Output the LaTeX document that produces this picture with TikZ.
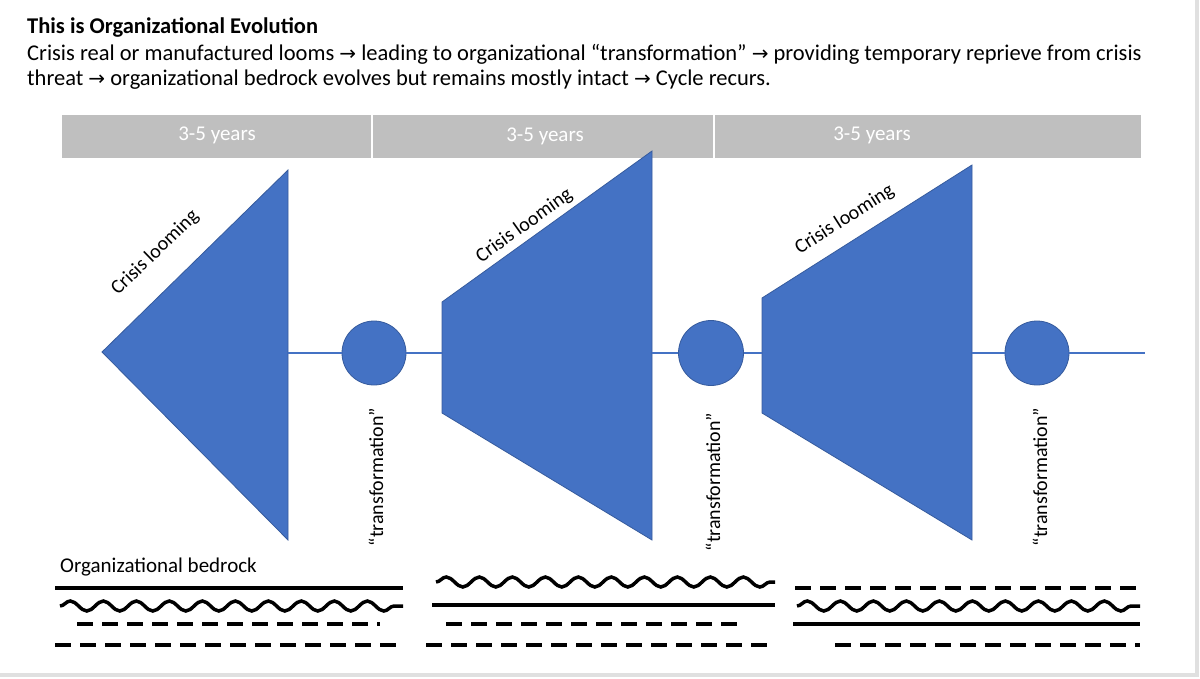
\documentclass[tikz,border=0pt]{standalone}
\usepackage{fontspec}
\setmainfont{Carlito}
\newfontfamily\arrfont{DejaVu Sans}
\usetikzlibrary{decorations.pathmorphing}
\newcommand{\ar}{{\arrfont\fontsize{20}{22}\selectfont →}}
\definecolor{shapeblue}{HTML}{4472C4}
\definecolor{bargray}{HTML}{BFBFBF}
\tikzset{
  blueshape/.style={fill=shapeblue,draw=shapeblue!80!black,line width=0.8pt},
  conn/.style={draw=shapeblue,line width=1.2pt},
  bed/.style={line width=3.5pt},
  beddash/.style={line width=3.5pt,dash pattern=on 16pt off 9pt},
  bedwave/.style={line width=3.5pt,decorate,decoration={snake,segment length=33pt,amplitude=5pt}},
  yrs/.style={text=white,font=\fontsize{21}{23}\selectfont},
  crisis/.style={font=\fontsize{20}{22}\selectfont,anchor=south,inner sep=1pt},
  trans/.style={font=\fontsize{20}{22}\selectfont,rotate=90},
  txt/.style={anchor=west,font=\fontsize{22.5}{25}\selectfont,inner sep=0pt}
}
\begin{document}
\begin{tikzpicture}[x=1pt,y=-1pt]
\useasboundingbox (0,0) rectangle (1200,678);
\fill[white] (0,0) rectangle (1200,678);
\draw[black!12,line width=4pt] (1197,0) -- (1197,675) -- (0,675);
\node[txt,font=\bfseries\fontsize{22.5}{25}\selectfont] (title) at (27,27) {This is Organizational Evolution};
\node[txt] (l1) at (27,54) {Crisis real or manufactured looms \ar{} leading to organizational “transformation” \ar{} providing temporary reprieve from crisis};
\node[txt] (l2) at (27,80) {threat \ar{} organizational bedrock evolves but remains mostly intact \ar{} Cycle recurs.};
% bar
\fill[bargray] (62,115) rectangle (1141,158);
\draw[white,line width=2pt] (372,115) -- (372,158) (714,115) -- (714,158);
\node[yrs] (y1) at (217,135) {3-5 years};
\node[yrs] (y2) at (545,136) {3-5 years};
\node[yrs] (y3) at (872,135) {3-5 years};
% shapes
\path[blueshape] (102,352) -- (288,170) -- (288,540) -- cycle;
\path[blueshape] (442,302) -- (652,151) -- (652,540) -- (442,413) -- cycle;
\path[blueshape] (762,298) -- (972,165) -- (972,540) -- (762,413) -- cycle;
\coordinate (s1) at (288,353);
\coordinate (s2l) at (442,353);
\coordinate (s2r) at (652,353);
\coordinate (s3l) at (762,353);
\coordinate (s3r) at (972,353);
\coordinate (e) at (1145,353);
\node[circle,minimum size=64pt,blueshape,inner sep=0pt] (c1) at (374,353) {};
\node[circle,minimum size=65pt,blueshape,inner sep=0pt] (c2) at (711,353) {};
\node[circle,minimum size=64pt,blueshape,inner sep=0pt] (c3) at (1037,353) {};
\draw[conn] (s1) -- (c1.west) (c1.east) -- (s2l) (s2r) -- (c2.west) (c2.east) -- (s3l) (s3r) -- (c3.west) (c3.east) -- (e);
\node[crisis,rotate=44] (k1) at (162,260) {Crisis looming};
\node[crisis,rotate=35.5] (k2) at (530,234) {Crisis looming};
\node[crisis,rotate=32.5] (k3) at (850,228) {Crisis looming};
\node[trans] (t1) at (376,477) {“transformation”};
\node[trans] (t2) at (713,482) {“transformation”};
\node[trans] (t3) at (1040,477) {“transformation”};
% bedrock
\node[txt,font=\fontsize{21}{23}\selectfont] (bed) at (60,567) {Organizational bedrock};
\draw[bed] (55,588) -- (403,588);
\draw[bedwave] (60,606) -- (403,606);
\draw[beddash] (77,624) -- (380,624);
\draw[beddash] (55,645) -- (403,645);
\draw[bedwave] (436,582) -- (775,582);
\draw[bed] (432,605) -- (775,605);
\draw[beddash] (446,624) -- (742,624);
\draw[beddash] (426,645) -- (773,645);
\draw[beddash] (795,588) -- (1140,588);
\draw[bedwave] (797,606) -- (1140,606);
\draw[bed] (793,624) -- (1140,624);
\draw[beddash] (835,645) -- (1140,645);
\end{tikzpicture}
\end{document}
